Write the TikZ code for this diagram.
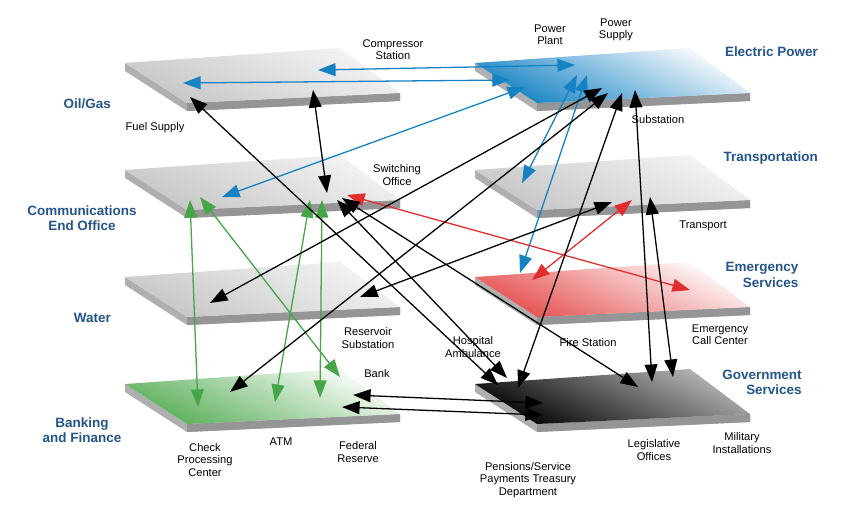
\documentclass[tikz,border=0pt]{standalone}
\usepackage{fontspec}
\setmainfont{Liberation Sans}
\usetikzlibrary{arrows.meta}

\definecolor{secblue}{RGB}{35,85,140}
\definecolor{lnblue}{RGB}{20,130,195}
\definecolor{lngreen}{RGB}{70,165,70}
\definecolor{lnred}{RGB}{225,45,45}
\definecolor{slabside}{RGB}{175,175,178}

% one sector plate: #1,#2 = back-left corner, #3 = colour of its front, #4 = colour of its back
\newcommand{\plate}[4]{
  \fill[slabside] (#1,#2) -- (#1+62,#2+40) -- (#1+275,#2+30) -- (#1+275,#2+38) -- (#1+62,#2+48) -- (#1,#2+8) -- cycle;
  \fill[slabside!85!black] (#1+62,#2+40) -- (#1+275,#2+30) -- (#1+275,#2+38) -- (#1+62,#2+48) -- cycle;
  \shade[bottom color=#3, top color=#4, shading angle=-25] (#1,#2) -- (#1+215,#2-15) -- (#1+275,#2+30) -- (#1+62,#2+40) -- cycle;
}

\begin{document}
\begin{tikzpicture}[x=0.03cm, y=-0.03cm,
  link/.style={line width=1.1pt, {Triangle[length=15pt,width=11pt]}-{Triangle[length=15pt,width=11pt]}},
  sector/.style={text=secblue, font=\fontsize{11.5}{13}\selectfont\bfseries, align=right},
  site/.style={font=\fontsize{9.5}{10.5}\selectfont, align=center}]
\useasboundingbox (0,0) rectangle (850,504);

\plate{125}{63}{gray!45}{gray!8}
\plate{125}{170}{gray!45}{gray!8}
\plate{125}{277}{gray!45}{gray!8}
\plate{125}{384}{lngreen!90}{white}
\plate{475}{63}{lnblue}{white}
\plate{475}{170}{gray!45}{gray!8}
\plate{475}{277}{lnred!85}{white}
\plate{475}{384}{black}{gray!55}

% sectors
\node[sector, anchor=east] (oil) at (115,104) {Oil/Gas};
\node[sector, align=center] (com) at (82,218) {Communications\\End Office};
\node[sector, anchor=east] (wat) at (115,318) {Water};
\node[sector, align=center] (bnk) at (82,430) {Banking\\and Finance};
\node[sector, anchor=east] (ele) at (822,52) {Electric Power};
\node[sector, anchor=east] (trn) at (822,158) {Transportation};
\node[sector] (ems) at (762,275) {Emergency\\Services};
\node[sector] (gov) at (762,382) {Government\\Services};

% sites
\node[site] (cmp) at (393,50) {Compressor\\Station};
\node[site] (ppl) at (550,35) {Power\\Plant};
\node[site] (psu) at (616,30) {Power\\Supply};
\node[site] (fue) at (155,128) {Fuel Supply};
\node[site] (sub) at (658,120) {Substation};
\node[site] (swo) at (397,175) {Switching\\Office};
\node[site] (tpt) at (703,226) {Transport};
\node[site] (res) at (368,338) {Reservoir\\Substation};
\node[site] (hos) at (473,347) {Hospital\\Ambulance};
\node[site] (fir) at (588,343) {Fire Station};
\node[site] (ecc) at (720,335) {Emergency\\Call Center};
\node[site] (bak) at (377,374) {Bank};
\node[site] (chk) at (205,460) {Check\\Processing\\Center};
\node[site] (atm) at (281,442) {ATM};
\node[site] (fed) at (358,452) {Federal\\Reserve};
\node[site] (pen) at (528,480) {Pensions/Service\\Payments Treasury\\Department};
\node[site] (leg) at (654,450) {Legislative\\Offices};
\node[site] (mil) at (742,443) {Military\\Installations};

% link end points
\coordinate (o1) at (318,70);  \coordinate (o2) at (183,83);
\coordinate (o3) at (190,97);  \coordinate (o4) at (313,90);
\coordinate (c1) at (222,197); \coordinate (c2) at (327,193);
\coordinate (c3) at (347,195); \coordinate (c4) at (190,200);
\coordinate (c5) at (200,197); \coordinate (c6) at (310,200);
\coordinate (c7) at (322,200); \coordinate (c8) at (337,200);
\coordinate (c9) at (342,198);
\coordinate (w1) at (210,303); \coordinate (w2) at (360,297);
\coordinate (b1) at (198,407); \coordinate (b2) at (340,377);
\coordinate (b3) at (275,402); \coordinate (b4) at (320,398);
\coordinate (b5) at (230,392); \coordinate (b6) at (353,395);
\coordinate (b7) at (342,407);
\coordinate (e1) at (575,65);  \coordinate (e2) at (510,80);
\coordinate (e3) at (525,87);  \coordinate (e4) at (577,75);
\coordinate (e5) at (587,75);  \coordinate (e6) at (602,88);
\coordinate (e7) at (608,93);  \coordinate (e8) at (622,93);
\coordinate (e9) at (635,90);
\coordinate (t1) at (522,183); \coordinate (t2) at (632,200);
\coordinate (t3) at (612,202); \coordinate (t4) at (650,197);
\coordinate (s1) at (520,273); \coordinate (s2) at (532,280);
\coordinate (s3) at (690,290);
\coordinate (g1) at (498,385); \coordinate (g2) at (507,378);
\coordinate (g3) at (518,388); \coordinate (g4) at (638,387);
\coordinate (g5) at (652,382); \coordinate (g6) at (673,377);
\coordinate (g7) at (543,403); \coordinate (g8) at (543,415);

\draw[link, lnblue] (o1) -- (e1);
\draw[link, lnblue] (o2) -- (e2);
\draw[link, lnblue] (c1) -- (e3);
\draw[link, lnblue] (e4) -- (t1);
\draw[link, lnblue] (e5) -- (s1);
\draw[link, lnred] (c3) -- (s3);
\draw[link, lnred] (s2) -- (t2);
\draw[link, lngreen] (c4) -- (b1);
\draw[link, lngreen] (c5) -- (b2);
\draw[link, lngreen] (c6) -- (b3);
\draw[link, lngreen] (c7) -- (b4);
\draw[link] (o3) -- (g1);
\draw[link] (o4) -- (c2);
\draw[link] (c8) -- (g2);
\draw[link] (c9) -- (g4);
\draw[link] (w1) -- (e6);
\draw[link] (w2) -- (t3);
\draw[link] (b5) -- (e7);
\draw[link] (e8) -- (g3);
\draw[link] (e9) -- (g5);
\draw[link] (t4) -- (g6);
\draw[link] (b6) -- (g7);
\draw[link] (b7) -- (g8);
\end{tikzpicture}
\end{document}
